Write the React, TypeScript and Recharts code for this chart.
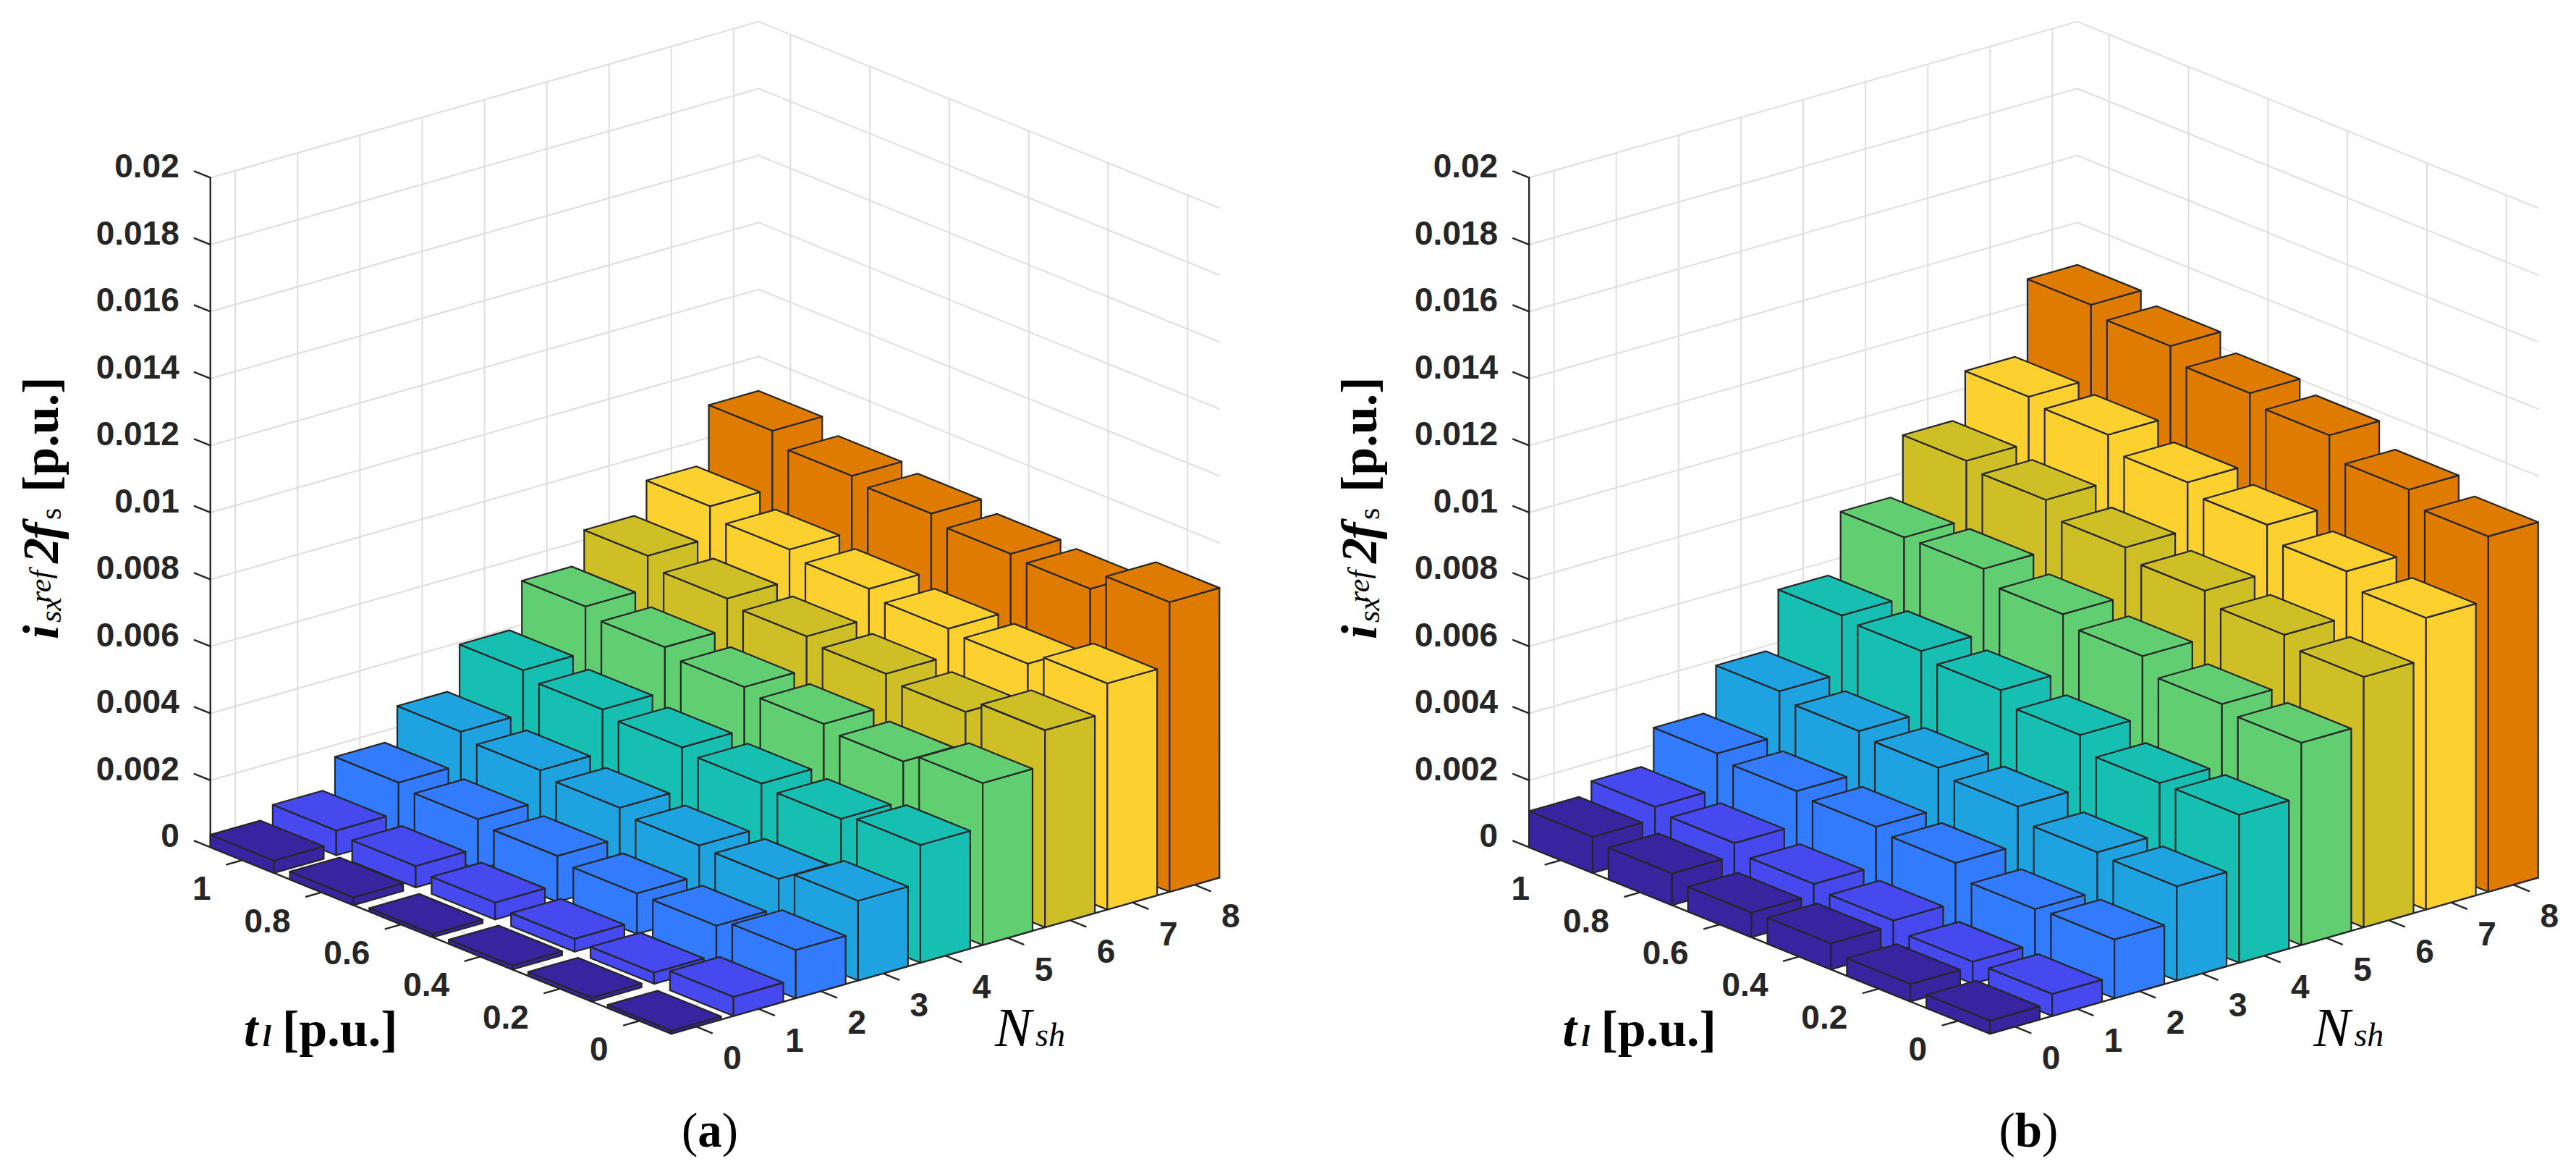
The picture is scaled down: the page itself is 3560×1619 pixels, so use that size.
import React from "react";
import { ScatterChart, Scatter, XAxis, YAxis } from "recharts";

// ---------- categories & ticks ----------
const nValues = [0, 1, 2, 3, 4, 5, 6, 7, 8];
const tValues = [0, 0.2, 0.4, 0.6, 0.8, 1];
const tLabels = ["0", "0.2", "0.4", "0.6", "0.8", "1"];
const zValues = [0, 0.002, 0.004, 0.006, 0.008, 0.01, 0.012, 0.014, 0.016, 0.018, 0.02];
const zLabels = ["0", "0.002", "0.004", "0.006", "0.008", "0.01", "0.012", "0.014", "0.016", "0.018", "0.02"];
const colors = ["#38249F", "#4549EE", "#327BFC", "#1FA3E0", "#17BFB3", "#61CE72", "#CFBF27", "#FBD02F", "#DF7C00"];

// ---------- panel (a): value at t = 0, 0.2, ..., 1 for each Nsh ----------
const a0 = [0.000095, 0.000119, 0.000121, 0.000104, 0.000233, 0.000374];
const a1 = [0.000573, 0.000337, 0.000385, 0.00051, 0.000642, 0.000739];
const a2 = [0.001442, 0.001209, 0.001215, 0.001371, 0.001511, 0.001643];
const a3 = [0.002383, 0.002078, 0.002117, 0.002283, 0.002441, 0.002633];
const a4 = [0.003518, 0.003342, 0.003435, 0.003556, 0.003727, 0.003941];
const a5 = [0.004839, 0.004527, 0.004685, 0.004828, 0.005059, 0.005314];
const a6 = [0.005889, 0.005476, 0.005654, 0.005811, 0.005982, 0.006298];
const a7 = [0.006756, 0.006386, 0.006473, 0.006702, 0.006916, 0.007247];
const a8 = [0.008655, 0.008092, 0.008177, 0.008421, 0.008585, 0.008972];

// ---------- panel (b) ----------
const b0 = [0.000393, 0.000525, 0.000778, 0.000739, 0.000949, 0.001081];
const b1 = [0.000659, 0.000662, 0.000932, 0.001064, 0.001325, 0.001449];
const b2 = [0.001756, 0.001704, 0.002123, 0.002244, 0.002348, 0.002514];
const b3 = [0.002815, 0.002873, 0.00328, 0.003479, 0.003611, 0.003844];
const b4 = [0.004421, 0.004413, 0.004884, 0.005264, 0.005474, 0.005576];
const b5 = [0.006043, 0.006239, 0.006711, 0.007003, 0.007398, 0.007377];
const b6 = [0.007481, 0.007779, 0.008136, 0.008466, 0.008929, 0.009134];
const b7 = [0.008715, 0.009145, 0.009575, 0.009883, 0.010345, 0.010518];
const b8 = [0.010618, 0.011056, 0.011718, 0.012016, 0.012462, 0.012736];

const seriesA = [a0, a1, a2, a3, a4, a5, a6, a7, a8];
const seriesB = [b0, b1, b2, b3, b4, b5, b6, b7, b8];

// ---------- oblique projection of the 3D box ----------
const PANEL_W = 1780;
const PAGE_H = 1619;
const NX = 86.1;
const NY = -24.5;
const TX = -109.8;
const TY = -44.4;
const ZY = -46250;
const FRONT_Y = 1428;
const BAR = 0.8;
const N_MIN = -0.4;
const N_MAX = 8.4;
const T_MIN = -0.08;
const T_MAX = 1.08;
const Z_MAX = 0.02;
const INK = "#262626";
const GRID = "#DEDEDE";
const SERIF = "'Liberation Serif', serif";
const SANS = "'Liberation Sans', Arial, sans-serif";

const makeProject = (frontX: number) => (n: number, t: number, z: number) => ({
  x: frontX + (n - N_MIN) * NX + ((t - T_MIN) / 0.2) * TX,
  y: FRONT_Y + (n - N_MIN) * NY + ((t - T_MIN) / 0.2) * TY + z * ZY,
});

const seg = (a: any, b: any) => ({ x: a.x, y: a.y, dx: b.x - a.x, dy: b.y - a.y });

const SegmentShape = (stroke: string, width: number) => (p: any) => (
  <line
    x1={p.cx}
    y1={p.cy}
    x2={p.cx + p.payload.dx}
    y2={p.cy + p.payload.dy}
    stroke={stroke}
    strokeWidth={width}
    strokeLinecap="round"
  />
);

const LabelShape = (anchor: string) => (p: any) => (
  <text
    x={p.cx}
    y={p.cy}
    textAnchor={anchor}
    dominantBaseline="central"
    fontFamily={SANS}
    fontWeight="bold"
    fontSize={46}
    fill={INK}
  >
    {p.payload.label}
  </text>
);

const BarShape = (color: string) => (p: any) => {
  const { cx, cy, payload } = p;
  const h = -payload.z * ZY;
  const nx = NX * BAR;
  const ny = NY * BAR;
  const tx = TX * BAR;
  const ty = TY * BAR;
  const top = cy - h;
  const style = { fill: color, stroke: INK, strokeWidth: 2.2, strokeLinejoin: "round" as const };
  return (
    <g>
      <polygon style={style} points={`${cx},${top} ${cx + tx},${top + ty} ${cx + tx},${cy + ty} ${cx},${cy}`} />
      <polygon style={style} points={`${cx},${top} ${cx + nx},${top + ny} ${cx + nx},${cy + ny} ${cx},${cy}`} />
      <polygon
        style={style}
        points={`${cx},${top} ${cx + nx},${top + ny} ${cx + nx + tx},${top + ny + ty} ${cx + tx},${top + ty}`}
      />
    </g>
  );
};

const TitlesShape = (tag: string, off: number) => (p: any) => (
  <g fontFamily={SERIF} fill="#000">
    <text transform={`translate(${off + 80},883) rotate(-90)`} fontSize={70} fontWeight="bold">
      <tspan x={0} y={0} fontStyle="italic">i</tspan>
      <tspan x={23} y={4} fontSize={42} fontStyle="italic" fontWeight="normal">sx</tspan>
      <tspan x={50} y={-10} fontSize={42} fontStyle="italic" fontWeight="normal">ref</tspan>
      <tspan x={105} y={0} fontStyle="italic">2</tspan>
      <tspan x={138} y={0} fontStyle="italic">f</tspan>
      <tspan x={165} y={4} fontSize={42} fontWeight="normal">s</tspan>
      <tspan x={203} y={0}>[p.u.]</tspan>
    </text>
    <text x={off + 337} y={1445} fontSize={70} fontWeight="bold">
      <tspan x={off + 337} fontStyle="italic">t</tspan>
      <tspan x={off + 363} fontSize={42} fontStyle="italic">l</tspan>
      <tspan x={off + 390}>[p.u.]</tspan>
    </text>
    <text x={off + 1375} y={1445} fontSize={76} fontStyle="italic">
      <tspan x={off + 1375}>N</tspan>
      <tspan x={off + 1431} fontSize={46}>sh</tspan>
    </text>
    <text x={off + 981} y={1584} fontSize={67} textAnchor="middle">
      (<tspan fontWeight="bold">{tag}</tspan>)
    </text>
  </g>
);

function Panel({ series, frontX, tag }: { series: number[][]; frontX: number; tag: string }) {
  const project = makeProject(frontX);
  const off = frontX - 927.6;

  const gridLines: any[] = [];
  zValues.forEach((z) => {
    gridLines.push(seg(project(N_MIN, T_MAX, z), project(N_MAX, T_MAX, z)));
    gridLines.push(seg(project(N_MAX, T_MAX, z), project(N_MAX, T_MIN, z)));
  });
  nValues.forEach((n) => {
    gridLines.push(seg(project(n, T_MAX, 0), project(n, T_MAX, Z_MAX)));
    gridLines.push(seg(project(n, T_MIN, 0), project(n, T_MAX, 0)));
  });
  tValues.forEach((t) => {
    gridLines.push(seg(project(N_MAX, t, 0), project(N_MAX, t, Z_MAX)));
    gridLines.push(seg(project(N_MIN, t, 0), project(N_MAX, t, 0)));
  });

  const axisLines: any[] = [
    seg(project(N_MIN, T_MAX, 0), project(N_MIN, T_MAX, Z_MAX)),
    seg(project(N_MIN, T_MAX, 0), project(N_MIN, T_MIN, 0)),
    seg(project(N_MIN, T_MIN, 0), project(N_MAX, T_MIN, 0)),
  ];
  zValues.forEach((z) => {
    axisLines.push(seg(project(N_MIN, T_MAX, z), project(N_MIN, T_MAX + 0.04, z)));
  });
  nValues.forEach((n) => {
    axisLines.push(seg(project(n, T_MIN, 0), project(n, T_MIN - 0.04, 0)));
  });
  tValues.forEach((t) => {
    axisLines.push(seg(project(N_MIN, t, 0), project(N_MIN - 0.25, t, 0)));
  });

  const zTickData = zValues.map((z, k) => {
    const p = project(N_MIN, T_MAX, z);
    return { x: p.x - 43, y: p.y - 16, label: zLabels[k] };
  });
  const nTickData = nValues.map((n) => {
    const p = project(n, T_MIN, 0);
    return { x: p.x + 50, y: p.y + 43, label: String(n) };
  });
  const tTickData = tValues.map((t, k) => {
    const p = project(N_MIN, t, 0);
    return { x: p.x - 43, y: p.y + 39, label: tLabels[k] };
  });

  const order = [...nValues].reverse();

  return (
    <ScatterChart
      width={PANEL_W}
      height={PAGE_H}
      margin={{ top: 0, right: 0, bottom: 0, left: 0 }}
    >
      <XAxis type="number" dataKey="x" domain={[0, PANEL_W]} hide allowDataOverflow />
      <YAxis type="number" dataKey="y" domain={[0, PAGE_H]} reversed hide allowDataOverflow />
      <Scatter data={gridLines} shape={SegmentShape(GRID, 2)} isAnimationActive={false} />
      <Scatter data={axisLines} shape={SegmentShape(INK, 2.4)} isAnimationActive={false} />
      {order.map((n) => {
        const data = [...tValues]
          .map((t, k) => {
            const p = project(n - 0.4, t - 0.08, 0);
            return { x: p.x, y: p.y, n, t, z: series[n][k] };
          })
          .reverse();
        return <Scatter key={n} data={data} shape={BarShape(colors[n])} isAnimationActive={false} />;
      })}
      <Scatter data={zTickData} shape={LabelShape("end")} isAnimationActive={false} />
      <Scatter data={tTickData} shape={LabelShape("end")} isAnimationActive={false} />
      <Scatter data={nTickData} shape={LabelShape("middle")} isAnimationActive={false} />
      <Scatter data={[{ x: 0, y: 0 }]} shape={TitlesShape(tag, off)} isAnimationActive={false} />
    </ScatterChart>
  );
}

export default function App() {
  return (
    <div style={{ position: "absolute", left: 0, top: 0, width: 3560, height: PAGE_H, background: "#fff", overflow: "hidden" }}>
      <div style={{ position: "absolute", left: 0, top: 0 }}>
        <Panel series={seriesA} frontX={927.6} tag="a" />
      </div>
      <div style={{ position: "absolute", left: 1780, top: 0, width: PANEL_W, height: PAGE_H }}>
        <Panel series={seriesB} frontX={970} tag="b" />
      </div>
    </div>
  );
}
